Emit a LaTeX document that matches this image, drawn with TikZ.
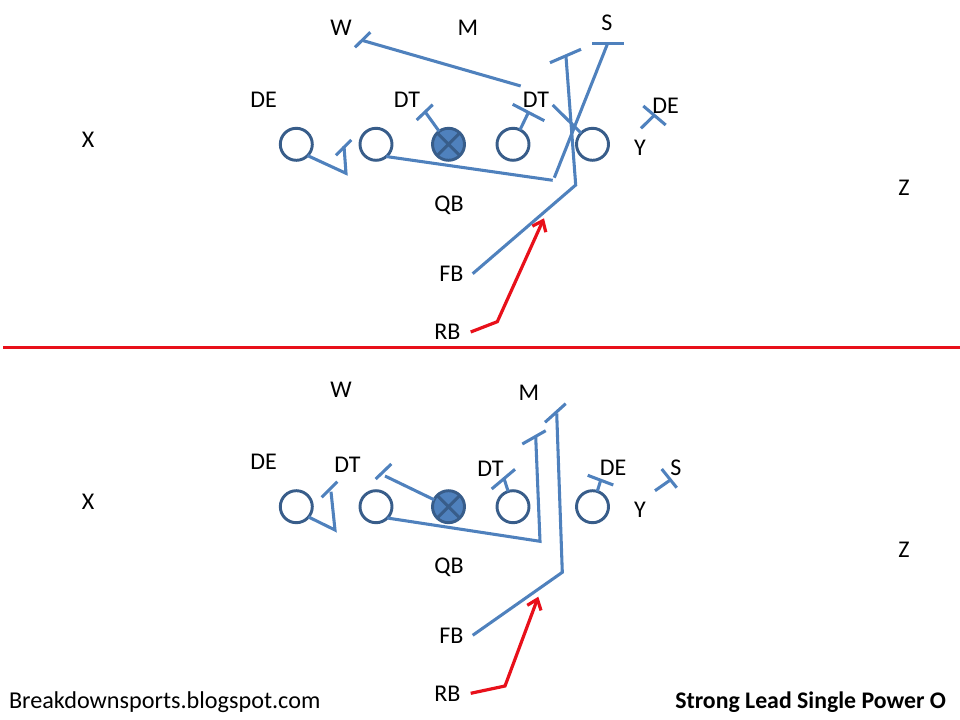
\documentclass[tikz,border=0pt]{standalone}
\usepackage{fontspec}
\setmainfont{Carlito}
\usetikzlibrary{arrows.meta}
\definecolor{routeblue}{HTML}{4F81BD}
\definecolor{ringblue}{HTML}{385D8A}
\definecolor{hitred}{HTML}{E8101A}
\tikzset{
  lab/.style={font=\fontsize{18}{22}\selectfont,text=black,inner sep=0pt,outer sep=0pt,text height=11.4pt,text depth=0pt,anchor=center},
  foot/.style={font=\fontsize{18.15}{22}\selectfont,text=black,inner sep=0pt,outer sep=0pt,anchor=base},
  blocker/.style={circle,draw=ringblue,fill=white,line width=2.2pt,minimum size=24pt,inner sep=0pt,outer sep=0pt},
  center/.style={blocker,fill=routeblue},
  route/.style={draw=routeblue,line width=2.3pt,line join=miter},
  runner/.style={draw=hitred,line width=2.4pt,-{Straight Barb[length=7pt,width=11pt,line width=2.4pt]}},
  divider/.style={draw=hitred,line width=1.9pt}
}
\begin{document}
\begin{tikzpicture}[x=0.75pt,y=-0.75pt]
\useasboundingbox (0,0) rectangle (960,720);
% ---------- top play: blockers
\node[blocker] (a1) at (296.3,144.3) {};
\node[blocker] (a2) at (376,144.3) {};
\node[center]  (a3) at (448.5,144.3) {};
\node[blocker] (a4) at (513,144.3) {};
\node[blocker] (a5) at (592.5,144.3) {};
\draw[draw=ringblue,line width=2.2pt] (a3.45) -- (a3.225) (a3.135) -- (a3.-45);
% top play: way points
\coordinate (t1k) at (346,173.3);
\coordinate (t1s) at (344,146);
\coordinate (t1a) at (336,155.3);
\coordinate (t1b) at (351.3,140);
\coordinate (t2s) at (425,111.7);
\coordinate (t2a) at (416.7,120);
\coordinate (t2b) at (432.7,104.7);
\coordinate (t3s) at (528.3,112.7);
\coordinate (t3a) at (512.7,104.3);
\coordinate (t3b) at (544.3,120.7);
\coordinate (t5e) at (552.7,105);
\coordinate (t6o) at (641,128.3);
\coordinate (t6s) at (654.3,115.3);
\coordinate (t6a) at (643.3,106);
\coordinate (t6b) at (665.7,125);
\coordinate (wfrom) at (520.7,86);
\coordinate (wto) at (363.3,40.7);
\coordinate (wa) at (355,47.3);
\coordinate (wb) at (370.3,32.3);
\coordinate (sfrom) at (554.3,177.7);
\coordinate (sto) at (607.7,43.3);
\coordinate (sa) at (592.3,43.3);
\coordinate (sb) at (624.3,43.3);
\coordinate (gend) at (552.7,180.3);
\coordinate (fbs) at (472.7,273.7);
\coordinate (fbk) at (575.7,185);
\coordinate (fbt) at (566,56.7);
\coordinate (fba) at (550,62.7);
\coordinate (fbb) at (581,49.3);
\coordinate (rbs) at (470.7,332);
\coordinate (rbk) at (497.3,321.7);
\coordinate (rbt) at (544,218.3);
% top play: routes
\draw[route] (a1.-45) -- (t1k) -- (t1s);
\draw[route] (t1a) -- (t1b);
\draw[route] (a3) -- (t2s);
\draw[route] (t2a) -- (t2b);
\draw[route] (a4) -- (t3s);
\draw[route] (t3a) -- (t3b);
\draw[route] (a5) -- (t5e);
\draw[route] (t6o) -- (t6s);
\draw[route] (t6a) -- (t6b);
\draw[route] (wfrom) -- (wto);
\draw[route] (wa) -- (wb);
\draw[route] (sfrom) -- (sto);
\draw[route] (sa) -- (sb);
\draw[route] (a2.-50) -- (gend);
\draw[route] (fbs) -- (fbk) -- (fbt);
\draw[route] (fba) -- (fbb);
\draw[runner] (rbs) -- (rbk) -- (rbt);
% top play: labels
\node[lab] (lw) at (341,28) {W};
\node[lab] (lm) at (468,28) {M};
\node[lab] (ls) at (607,23) {S};
\node[lab] (lde1) at (263.5,100) {DE};
\node[lab] (ldt1) at (407,100) {DT};
\node[lab] (ldt2) at (536,100) {DT};
\node[lab] (lde2) at (665.5,106) {DE};
\node[lab] (lx) at (88,140) {X};
\node[lab] (ly) at (640,148) {Y};
\node[lab] (lz) at (904,188) {Z};
\node[lab] (lqb) at (449,204) {QB};
\node[lab] (lfb) at (451.5,274) {FB};
\node[lab] (lrb) at (447.5,332) {RB};
% ---------- divider
\coordinate (dl) at (3,347.5);
\coordinate (dr) at (960,347.5);
\draw[divider] (dl) -- (dr);
% ---------- bottom play: blockers
\node[blocker] (b1) at (296.3,506.7) {};
\node[blocker] (b2) at (376,506.7) {};
\node[center]  (b3) at (448.5,506.7) {};
\node[blocker] (b4) at (513,506.7) {};
\node[blocker] (b5) at (592.5,506.7) {};
\draw[draw=ringblue,line width=2.2pt] (b3.45) -- (b3.225) (b3.135) -- (b3.-45);
% bottom play: way points
\coordinate (u1k) at (335,530);
\coordinate (u1s) at (331,491.7);
\coordinate (u1a) at (321.7,497.3);
\coordinate (u1b) at (337.3,481.7);
\coordinate (u2s) at (385,476);
\coordinate (u2a) at (375.7,479);
\coordinate (u2b) at (391.3,464);
\coordinate (u3s) at (504.3,479.3);
\coordinate (u3a) at (491.7,489);
\coordinate (u3b) at (515,469.3);
\coordinate (u4s) at (600.7,480.3);
\coordinate (u4a) at (587.7,475.3);
\coordinate (u4b) at (613.3,485);
\coordinate (u5o) at (655,490.7);
\coordinate (u5s) at (669.3,480.7);
\coordinate (u5a) at (661.7,469);
\coordinate (u5b) at (676.7,487.7);
\coordinate (gk) at (540,541.3);
\coordinate (gt) at (535.7,436.7);
\coordinate (ga) at (522.3,444);
\coordinate (gb) at (545.7,430.7);
\coordinate (vs) at (472.7,635.3);
\coordinate (vk) at (562.3,572.3);
\coordinate (vt) at (556.7,413.3);
\coordinate (va) at (545,422.3);
\coordinate (vb) at (565.7,403.7);
\coordinate (qs) at (470.7,693.3);
\coordinate (qk) at (505,686);
\coordinate (qt) at (538.3,596.7);
% bottom play: routes
\draw[route] (b1.-40) -- (u1k) -- (u1s);
\draw[route] (u1a) -- (u1b);
\draw[route] (b3) -- (u2s);
\draw[route] (u2a) -- (u2b);
\draw[route] (b4) -- (u3s);
\draw[route] (u3a) -- (u3b);
\draw[route] (b5) -- (u4s);
\draw[route] (u4a) -- (u4b);
\draw[route] (u5o) -- (u5s);
\draw[route] (u5a) -- (u5b);
\draw[route] (b2.-45) -- (gk) -- (gt);
\draw[route] (ga) -- (gb);
\draw[route] (vs) -- (vk) -- (vt);
\draw[route] (va) -- (vb);
\draw[runner] (qs) -- (qk) -- (qt);
% bottom play: labels
\node[lab] (mw) at (341,390) {W};
\node[lab] (mm) at (529,393) {M};
\node[lab] (mde1) at (263.5,462) {DE};
\node[lab] (mdt1) at (347.5,465) {DT};
\node[lab] (mdt2) at (490.5,469) {DT};
\node[lab] (mde2) at (613,468) {DE};
\node[lab] (ms) at (676,468) {S};
\node[lab] (mx) at (88,502) {X};
\node[lab] (my) at (640,510) {Y};
\node[lab] (mz) at (904,550) {Z};
\node[lab] (mqb) at (449,566) {QB};
\node[lab] (mfb) at (451.5,636) {FB};
\node[lab] (mrb) at (447.5,694) {RB};
% footer
\node[foot,anchor=base west] (site) at (9,708) {Breakdownsports.blogspot.com};
\node[foot,anchor=base east,font=\fontsize{17.85}{22}\selectfont\bfseries] (title) at (946,708) {Strong Lead Single Power O};
\end{tikzpicture}
\end{document}
